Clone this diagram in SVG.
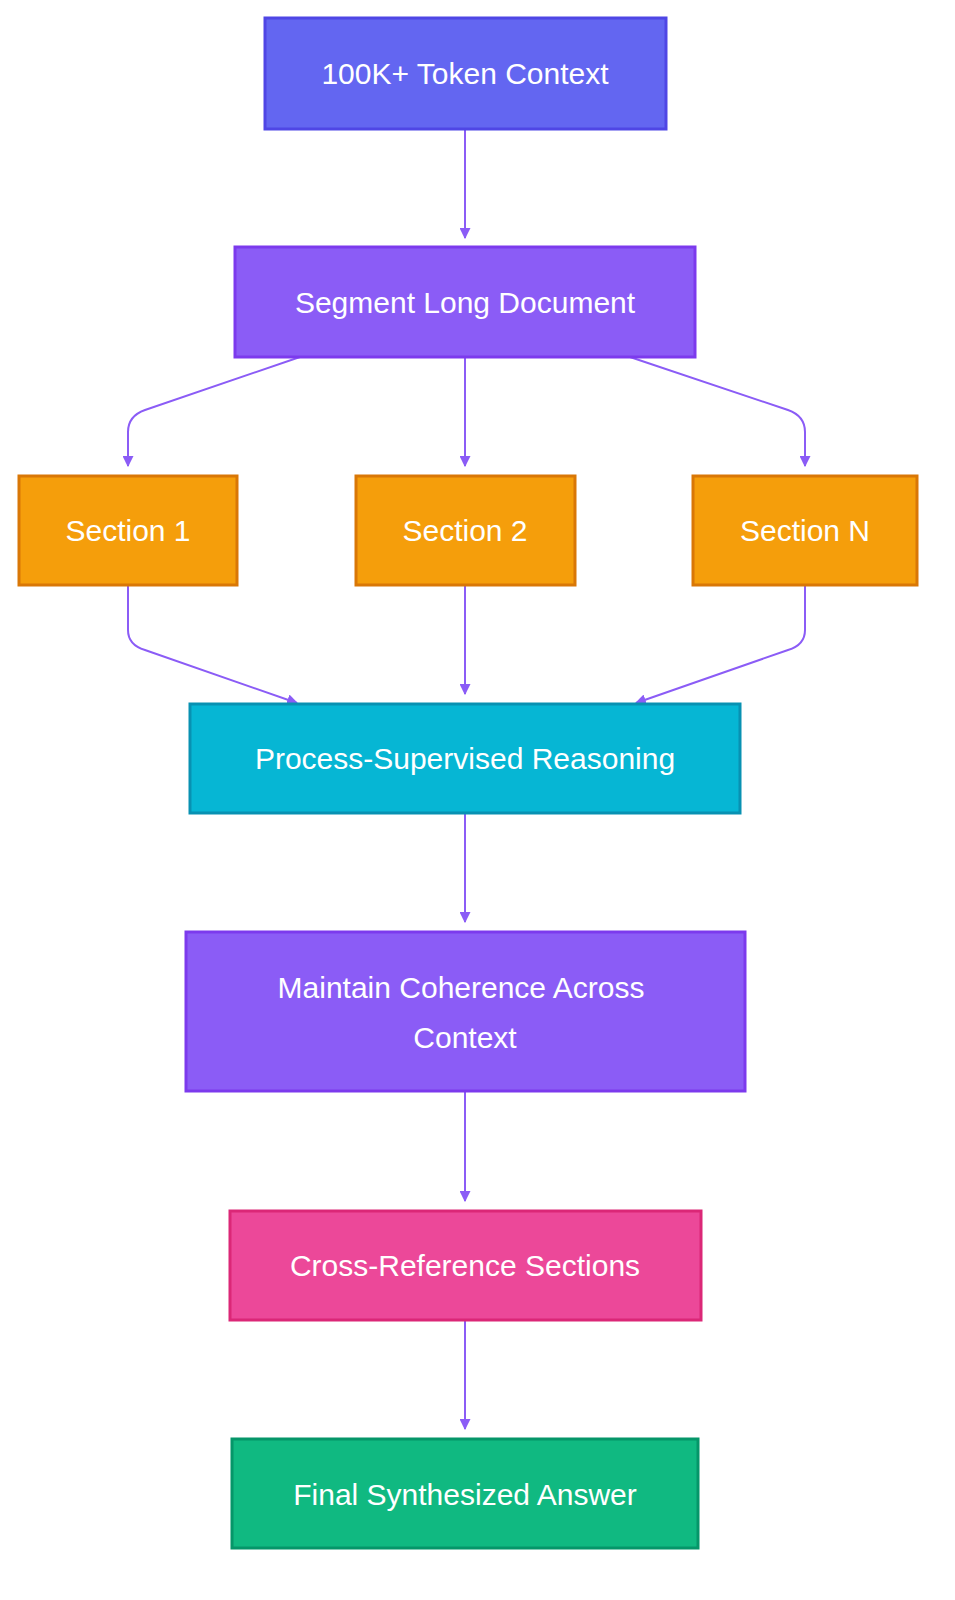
<svg xmlns="http://www.w3.org/2000/svg" width="955" height="1600" viewBox="0 0 955 1600">
<style>
.n rect{stroke-width:3}
.n text{font-family:"Liberation Sans",Arial,sans-serif;font-size:30px;fill:#fff;text-anchor:middle;dominant-baseline:central}
.e path{fill:none;stroke:#8b5cf6;stroke-width:2;marker-end:url(#a)}
</style>
<defs><marker id="a" viewBox="0 0 10 10" refX="9" refY="5" markerWidth="11" markerHeight="11" markerUnits="userSpaceOnUse" orient="auto"><path d="M0,0L10,5L0,10z" fill="#8b5cf6"/></marker>
<marker id="b" viewBox="0 0 10 10" refX="9" refY="5" markerWidth="24" markerHeight="24" markerUnits="userSpaceOnUse" orient="auto"><path d="M0,0L10,5L0,10z" fill="#8b5cf6"/></marker></defs>
<rect width="955" height="1600" fill="#fff"/>
<g class="e">
<path d="M465,129V238" marker-end="url(#b)"/>
<path d="M300,357L145,410Q128,416 128,432V466" marker-end="url(#b)"/>
<path d="M465,357V466" marker-end="url(#b)"/>
<path d="M630,357L788,410Q805,416 805,432V466" marker-end="url(#b)"/>
<path d="M128,585V630Q128,645 145,650L297,703" marker-end="url(#b)"/>
<path d="M465,585V694" marker-end="url(#b)"/>
<path d="M805,585V630Q805,645 788,650L636,703" marker-end="url(#b)"/>
<path d="M465,813V922" marker-end="url(#b)"/>
<path d="M465,1091V1201" marker-end="url(#b)"/>
<path d="M465,1320V1429" marker-end="url(#b)"/>
</g>
<g id="n1" class="n"><rect x="265" y="18" width="401" height="111" fill="#6366f1" stroke="#4f46e5"/><text x="465" y="73">100K+ Token Context</text></g>
<g id="n2" class="n"><rect x="235" y="247" width="460" height="110" fill="#8b5cf6" stroke="#7c3aed"/><text x="465" y="302">Segment Long Document</text></g>
<g id="s1" class="n"><rect x="19" y="476" width="218" height="109" fill="#f59e0b" stroke="#d97706"/><text x="128" y="530">Section 1</text></g>
<g id="s2" class="n"><rect x="356" y="476" width="219" height="109" fill="#f59e0b" stroke="#d97706"/><text x="465" y="530">Section 2</text></g>
<g id="sn" class="n"><rect x="693" y="476" width="224" height="109" fill="#f59e0b" stroke="#d97706"/><text x="805" y="530">Section N</text></g>
<g id="p" class="n"><rect x="190" y="704" width="550" height="109" fill="#06b6d4" stroke="#0891b2"/><text x="465" y="758">Process-Supervised Reasoning</text></g>
<g id="m" class="n"><rect x="186" y="932" width="559" height="159" fill="#8b5cf6" stroke="#7c3aed"/><text x="461" y="987">Maintain Coherence Across</text><text x="465" y="1037">Context</text></g>
<g id="c" class="n"><rect x="230" y="1211" width="471" height="109" fill="#ec4899" stroke="#db2777"/><text x="465" y="1265">Cross-Reference Sections</text></g>
<g id="f" class="n"><rect x="232" y="1439" width="466" height="109" fill="#10b981" stroke="#059669"/><text x="465" y="1494">Final Synthesized Answer</text></g>
</svg>
